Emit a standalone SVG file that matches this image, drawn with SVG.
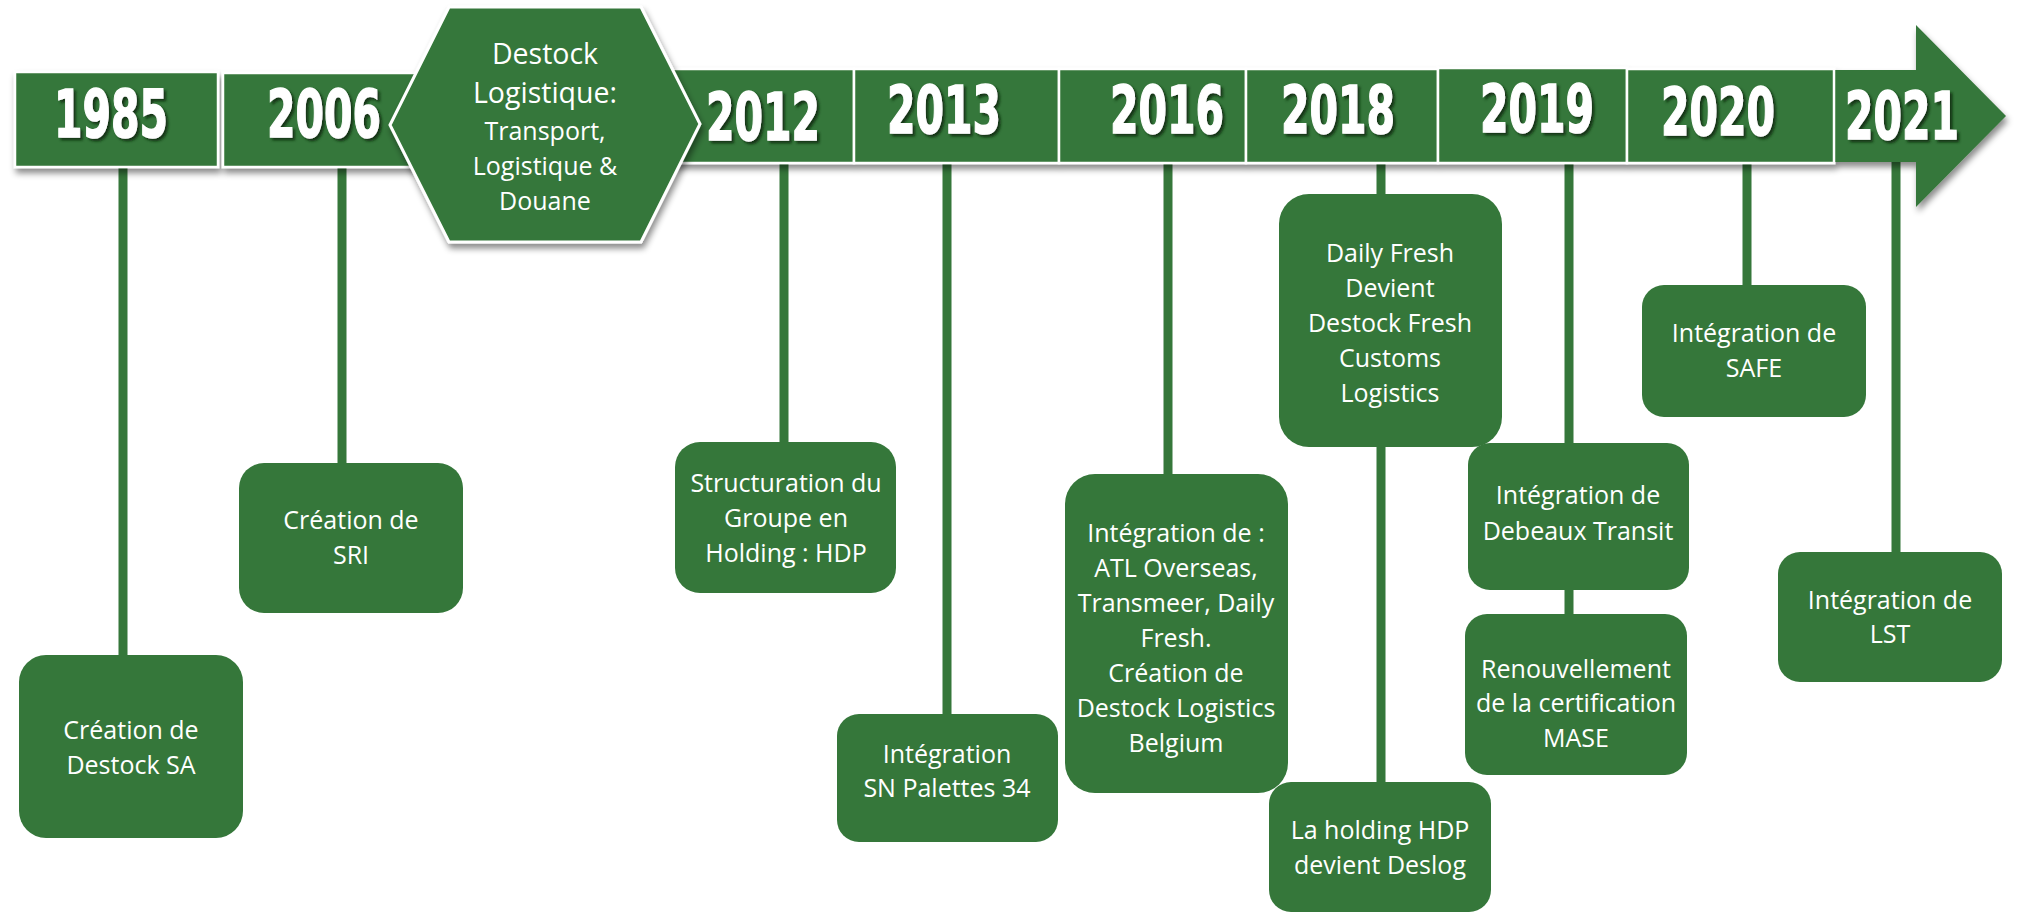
<svg xmlns="http://www.w3.org/2000/svg" width="2040" height="916" viewBox="0 0 2040 916">
<defs>
<filter id="sh" x="-10%" y="-10%" width="130%" height="140%">
<feDropShadow dx="2" dy="5" stdDeviation="3" flood-color="#000" flood-opacity="0.45"/>
</filter>
<filter id="tsh" x="-10%" y="-10%" width="130%" height="130%">
<feDropShadow dx="2.5" dy="2.5" stdDeviation="1.2" flood-color="#0b2a0e" flood-opacity="0.85"/>
</filter>
<style>
.bar{fill:#35773A;stroke:#fff;stroke-width:2.5}
.arr{fill:#35773A}
.ev{fill:#35773A}
.ln{stroke:#35773A;stroke-width:9;fill:none}
.yr{font-family:"DejaVu Sans",sans-serif;font-weight:bold;font-size:66px;fill:#fff;stroke:#fff;stroke-width:1.5;text-anchor:middle}
.tx{font-family:"Open Sans","Liberation Sans",sans-serif;font-size:25px;fill:#fff;text-anchor:middle}
.hx{font-family:"Open Sans","Liberation Sans",sans-serif;fill:#fff;text-anchor:middle}
</style>
</defs>
<rect width="2040" height="916" fill="#fff"/>
<g id="connectors">
<line class="ln" x1="123" y1="160" x2="123" y2="660"/>
<line class="ln" x1="342" y1="160" x2="342" y2="468"/>
<line class="ln" x1="784" y1="160" x2="784" y2="447"/>
<line class="ln" x1="947" y1="160" x2="947" y2="719"/>
<line class="ln" x1="1168" y1="160" x2="1168" y2="479"/>
<line class="ln" x1="1381" y1="160" x2="1381" y2="787"/>
<line class="ln" x1="1569" y1="160" x2="1569" y2="619"/>
<line class="ln" x1="1747" y1="160" x2="1747" y2="290"/>
<line class="ln" x1="1896" y1="160" x2="1896" y2="557"/>
</g>
<g id="timeline" filter="url(#sh)">
<rect class="bar" x="15" y="72" width="203" height="95"/>
<rect class="bar" x="223" y="73" width="220" height="94"/>
<rect class="bar" x="655" y="69" width="199" height="94"/>
<rect class="bar" x="854" y="69" width="205" height="94"/>
<rect class="bar" x="1059" y="69" width="187" height="94"/>
<rect class="bar" x="1246" y="69" width="192" height="94"/>
<rect class="bar" x="1438" y="68" width="189" height="95"/>
<polygon class="arr" points="1834,70 1916,70 1916,25 2006,116 1916,207 1916,162 1834,162"/>
<rect class="bar" x="1627" y="69" width="207" height="94"/>
</g>
<g id="hexagon">
<polygon points="390,125 449,7 641,7 700,124 641,242 449,242" fill="#35773A" stroke="#fff" stroke-width="3" filter="url(#sh)"/>
<text class="hx" font-size="28.5" x="545" y="64">Destock</text>
<text class="hx" font-size="28.5" x="545" y="103">Logistique:</text>
<text class="hx" font-size="25" x="545" y="140">Transport,</text>
<text class="hx" font-size="25" x="545" y="175">Logistique &amp;</text>
<text class="hx" font-size="25" x="545" y="210">Douane</text>
</g>
<g id="years" filter="url(#tsh)">
<text class="yr" transform="translate(111,137) scale(0.62,1)">1985</text>
<text class="yr" transform="translate(324,137) scale(0.62,1)">2006</text>
<text class="yr" transform="translate(763,140) scale(0.62,1)">2012</text>
<text class="yr" transform="translate(944,133) scale(0.62,1)">2013</text>
<text class="yr" transform="translate(1167,133) scale(0.62,1)">2016</text>
<text class="yr" transform="translate(1338,133) scale(0.62,1)">2018</text>
<text class="yr" transform="translate(1537,132) scale(0.62,1)">2019</text>
<text class="yr" transform="translate(1718,135) scale(0.62,1)">2020</text>
<text class="yr" transform="translate(1902,139) scale(0.62,1)">2021</text>
</g>
<g id="ev1985">
<rect class="ev" x="19" y="655" width="224" height="183" rx="27"/>
<text class="tx" x="131" y="739">Création de</text>
<text class="tx" x="131" y="774">Destock SA</text>
</g>
<g id="ev2006">
<rect class="ev" x="239" y="463" width="224" height="150" rx="25"/>
<text class="tx" x="351" y="529">Création de</text>
<text class="tx" x="351" y="564">SRI</text>
</g>
<g id="ev2012">
<rect class="ev" x="675" y="442" width="221" height="151" rx="25"/>
<text class="tx" x="786" y="492">Structuration du</text>
<text class="tx" x="786" y="527">Groupe en</text>
<text class="tx" x="786" y="562">Holding : HDP</text>
</g>
<g id="ev2013">
<rect class="ev" x="837" y="714" width="221" height="128" rx="22"/>
<text class="tx" x="947" y="763">Intégration</text>
<text class="tx" x="947" y="797">SN Palettes 34</text>
</g>
<g id="ev2016">
<rect class="ev" x="1065" y="474" width="223" height="319" rx="30"/>
<text class="tx" x="1176" y="542">Intégration de :</text>
<text class="tx" x="1176" y="577">ATL Overseas,</text>
<text class="tx" x="1176" y="612">Transmeer, Daily</text>
<text class="tx" x="1176" y="647">Fresh.</text>
<text class="tx" x="1176" y="682">Création de</text>
<text class="tx" x="1176" y="717">Destock Logistics</text>
<text class="tx" x="1176" y="752">Belgium</text>
</g>
<g id="ev2018a">
<rect class="ev" x="1279" y="194" width="223" height="253" rx="30"/>
<text class="tx" x="1390" y="262">Daily Fresh</text>
<text class="tx" x="1390" y="297">Devient</text>
<text class="tx" x="1390" y="332">Destock Fresh</text>
<text class="tx" x="1390" y="367">Customs</text>
<text class="tx" x="1390" y="402">Logistics</text>
</g>
<g id="ev2018b">
<rect class="ev" x="1269" y="782" width="222" height="130" rx="22"/>
<text class="tx" x="1380" y="839">La holding HDP</text>
<text class="tx" x="1380" y="874">devient Deslog</text>
</g>
<g id="ev2019a">
<rect class="ev" x="1468" y="443" width="221" height="147" rx="22"/>
<text class="tx" x="1578" y="504">Intégration de</text>
<text class="tx" x="1578" y="540">Debeaux Transit</text>
</g>
<g id="ev2019b">
<rect class="ev" x="1465" y="614" width="222" height="161" rx="22"/>
<text class="tx" x="1576" y="678">Renouvellement</text>
<text class="tx" x="1576" y="712">de la certification</text>
<text class="tx" x="1576" y="747">MASE</text>
</g>
<g id="ev2020">
<rect class="ev" x="1642" y="285" width="224" height="132" rx="22"/>
<text class="tx" x="1754" y="342">Intégration de</text>
<text class="tx" x="1754" y="377">SAFE</text>
</g>
<g id="ev2021">
<rect class="ev" x="1778" y="552" width="224" height="130" rx="22"/>
<text class="tx" x="1890" y="609">Intégration de</text>
<text class="tx" x="1890" y="643">LST</text>
</g>
</svg>
